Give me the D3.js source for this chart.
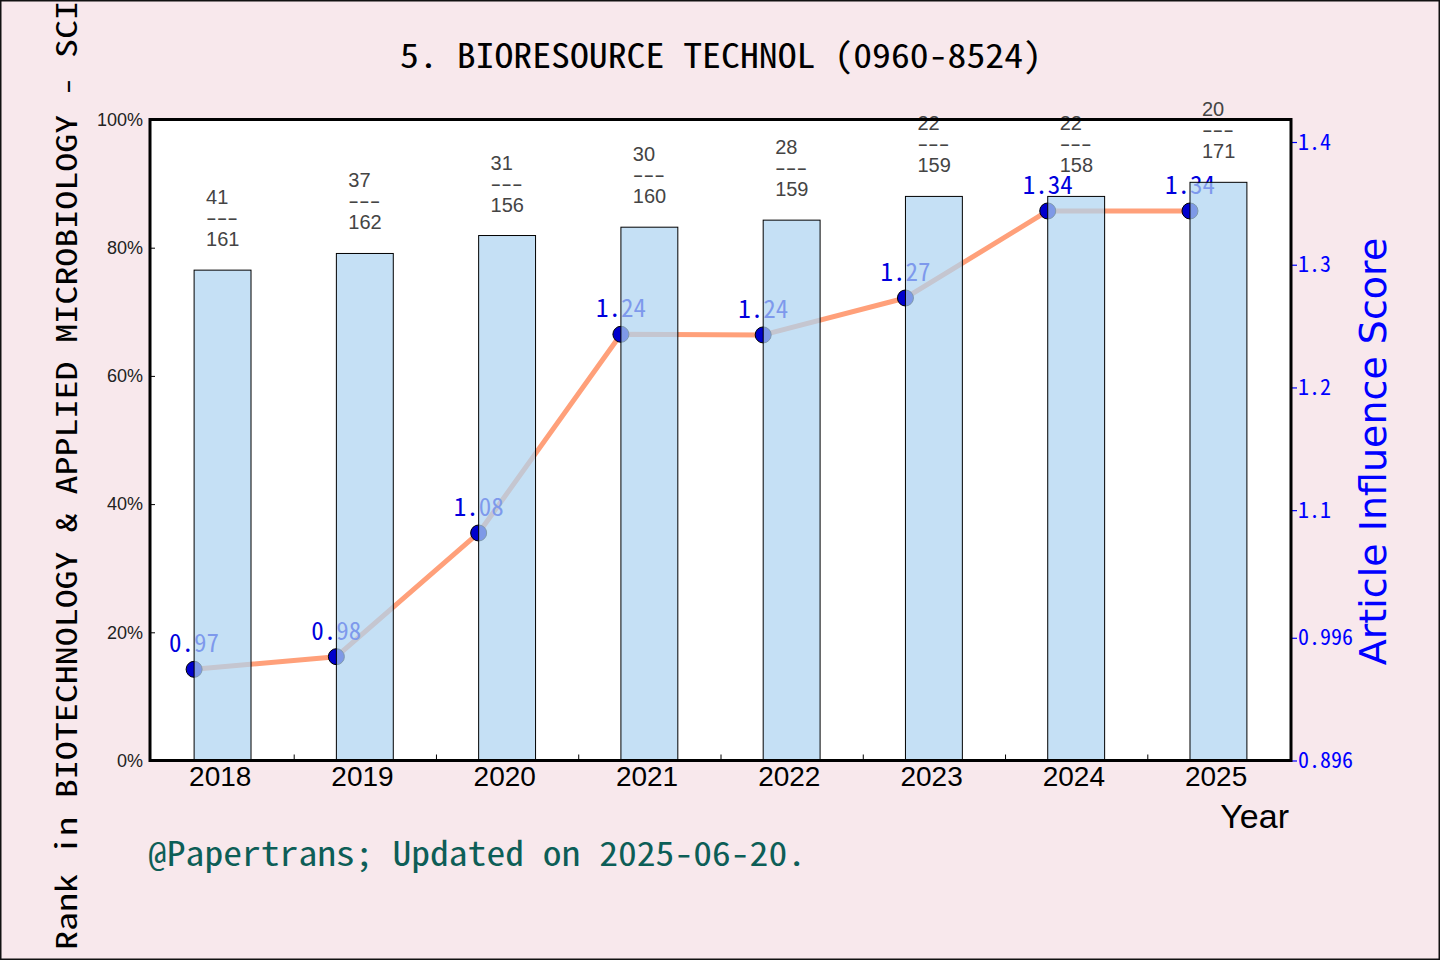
<!DOCTYPE html>
<html>
<head>
<meta charset="utf-8">
<script src="https://cdn.jsdelivr.net/npm/d3@7"></script>
<style>
  html, body { margin: 0; padding: 0; background: #f8e8ec; }
  svg { display: block; }
</style>
</head>
<body>
<svg id="chart" width="1440" height="960"></svg>
<script>
// ---------------- data ----------------
const years = ['2018', '2019', '2020', '2021', '2022', '2023', '2024', '2025'];
const rankPct = [0.765, 0.791, 0.819, 0.832, 0.843, 0.880, 0.880, 0.902];
const rankNum = [41, 37, 31, 30, 28, 22, 22, 20];
const rankTotal = [161, 162, 156, 160, 159, 159, 158, 171];
const aisValues = [0.9703, 0.9806, 1.0814, 1.2433, 1.2428, 1.2729, 1.3438, 1.3438];
const leftTicks = [0, 0.2, 0.4, 0.6, 0.8, 1.0];
const rightTicks = [0.896, 0.996, 1.1, 1.2, 1.3, 1.4];
const rightTickLabels = ['0.896', '0.996', '1.1', '1.2', '1.3', '1.4'];
const titleText = '5. BIORESOURCE TECHNOL (0960-8524)';
const leftTitle = 'Rank in BIOTECHNOLOGY & APPLIED MICROBIOLOGY - SCIE';
const rightTitle = 'Article Influence Score';
const xTitle = 'Year';
const footerText = '@Papertrans; Updated on 2025-06-20.';

// ---------------- layout ----------------
const W = 1440, H = 960;
const L = 150, R = 1291, T = 119.5, B = 760.5;
const mono = "'Noto Sans Mono CJK SC', 'DejaVu Sans Mono', monospace";
const sans = "'Liberation Sans', Arial, sans-serif";

const svg = d3.select('#chart');
svg.append('rect').attr('x', 0.75).attr('y', 0.75).attr('width', W - 1.5).attr('height', H - 1.5)
  .attr('fill', '#f8e8ec').attr('stroke', '#111').attr('stroke-width', 1.5);

const x = d3.scaleLinear().domain([-0.31, 7.71]).range([L, R]);
const yL = d3.scaleLinear().domain([0, 1]).range([B, T]);
const yR = d3.scaleLinear().domain([0.896, 1.41834]).range([B, T]);

// plot background
svg.append('rect').attr('x', L).attr('y', T).attr('width', R - L).attr('height', B - T).attr('fill', '#ffffff');

const idx = d3.range(years.length);

// line
const line = d3.line().x(i => x(i)).y(i => yR(aisValues[i]));
svg.append('path').datum(idx).attr('d', line)
  .attr('fill', 'none').attr('stroke', '#ffa07a').attr('stroke-width', 5).attr('stroke-linejoin', 'round');

// markers
svg.append('g').selectAll('circle').data(idx).join('circle')
  .attr('cx', i => x(i)).attr('cy', i => yR(aisValues[i])).attr('r', 8)
  .attr('fill', '#0000cd').attr('stroke', '#000').attr('stroke-width', 1);

// value labels
svg.append('g').selectAll('text').data(idx).join('text')
  .attr('x', i => x(i)).attr('y', i => yR(aisValues[i]) - 17)
  .attr('text-anchor', 'middle')
  .attr('font-family', mono).attr('font-size', 25).attr('fill', '#0000dd')
  .text(i => aisValues[i].toFixed(2));

// bars (semi-transparent, on top of line)
svg.append('g').selectAll('rect').data(idx).join('rect')
  .attr('x', i => x(i)).attr('width', i => x(i + 0.4) - x(i))
  .attr('y', i => yL(rankPct[i])).attr('height', i => yL(0) - yL(rankPct[i]))
  .attr('fill', 'rgb(175,212,241)').attr('fill-opacity', 0.72)
  .attr('stroke', '#000').attr('stroke-width', 1);

// bar labels (rank / total)
const bl = svg.append('g').attr('font-family', sans).attr('font-size', 20).attr('fill', '#444');
idx.forEach(i => {
  const cx = (x(i) + x(i + 0.4)) / 2;
  const top = yL(rankPct[i]);
  const lx = cx - 16.5;
  bl.append('text').attr('x', lx).attr('y', top - 66).text(rankNum[i]);
  bl.append('text').attr('x', lx).attr('y', top - 45)
    .attr('textLength', 32).attr('lengthAdjust', 'spacingAndGlyphs').text('---');
  bl.append('text').attr('x', lx).attr('y', top - 24).text(rankTotal[i]);
});

// bottom minor ticks (inward)
const xTickAxis = d3.axisBottom(x).tickValues(d3.range(7).map(i => i + 0.7))
  .tickSizeInner(-6).tickSizeOuter(0).tickFormat('');
const gxt = svg.append('g').attr('transform', `translate(0,${B})`).call(xTickAxis);
gxt.select('.domain').remove();
gxt.selectAll('line').attr('stroke', '#000').attr('stroke-width', 1);

// year labels
const xLabAxis = d3.axisBottom(x).tickValues(idx.map(i => i + 0.18))
  .tickSize(0).tickPadding(6).tickFormat(d => years[Math.round(d - 0.18)]);
const gxl = svg.append('g').attr('transform', `translate(0,${B})`).call(xLabAxis);
gxl.select('.domain').remove();
gxl.selectAll('text').attr('font-family', sans).attr('font-size', 28).attr('fill', '#000');

// left axis
const leftAxis = d3.axisLeft(yL).tickValues(leftTicks).tickFormat(d3.format('.0%'))
  .tickSizeInner(-5).tickSizeOuter(0).tickPadding(7);
const gl = svg.append('g').attr('transform', `translate(${L},0)`).call(leftAxis);
gl.select('.domain').remove();
gl.selectAll('line').attr('stroke', '#000');
gl.selectAll('text').attr('font-family', sans).attr('font-size', 18).attr('fill', '#222');

// right axis
const rightAxis = d3.axisRight(yR).tickValues(rightTicks).tickFormat((d, i) => rightTickLabels[i])
  .tickSizeInner(6).tickSizeOuter(0).tickPadding(1);
const gr = svg.append('g').attr('transform', `translate(${R},0)`).call(rightAxis);
gr.select('.domain').remove();
gr.selectAll('line').attr('stroke', '#0000ff').attr('stroke-width', 1.2);
gr.selectAll('text').attr('font-family', mono).attr('font-size', 22).attr('fill', '#0000ff');

// frame
svg.append('rect').attr('x', L).attr('y', T).attr('width', R - L).attr('height', B - T)
  .attr('fill', 'none').attr('stroke', '#000').attr('stroke-width', 3);

// title
svg.append('text').attr('x', 721).attr('y', 68).attr('text-anchor', 'middle')
  .attr('font-family', mono).attr('font-size', 34).attr('fill', '#000')
  .attr('textLength', 642).attr('lengthAdjust', 'spacingAndGlyphs').text(titleText);

// left title
svg.append('text').attr('transform', 'translate(77,950) rotate(-90)')
  .attr('font-family', mono).attr('font-size', 29).attr('fill', '#000')
  .attr('textLength', 968).attr('lengthAdjust', 'spacingAndGlyphs').text(leftTitle);

// right title
svg.append('text').attr('transform', 'translate(1386,451.5) rotate(-90)').attr('text-anchor', 'middle')
  .attr('font-family', "'DejaVu Sans', sans-serif").attr('font-size', 38).attr('fill', '#0000ff')
  .text(rightTitle);

// x title
svg.append('text').attr('x', 1289).attr('y', 828).attr('text-anchor', 'end')
  .attr('font-family', sans).attr('font-size', 34).attr('fill', '#000').text(xTitle);

// footer
svg.append('text').attr('x', 148).attr('y', 866)
  .attr('font-family', mono).attr('font-size', 34).attr('fill', '#0d5e57')
  .attr('textLength', 658).attr('lengthAdjust', 'spacingAndGlyphs').text(footerText);
</script>
</body>
</html>
